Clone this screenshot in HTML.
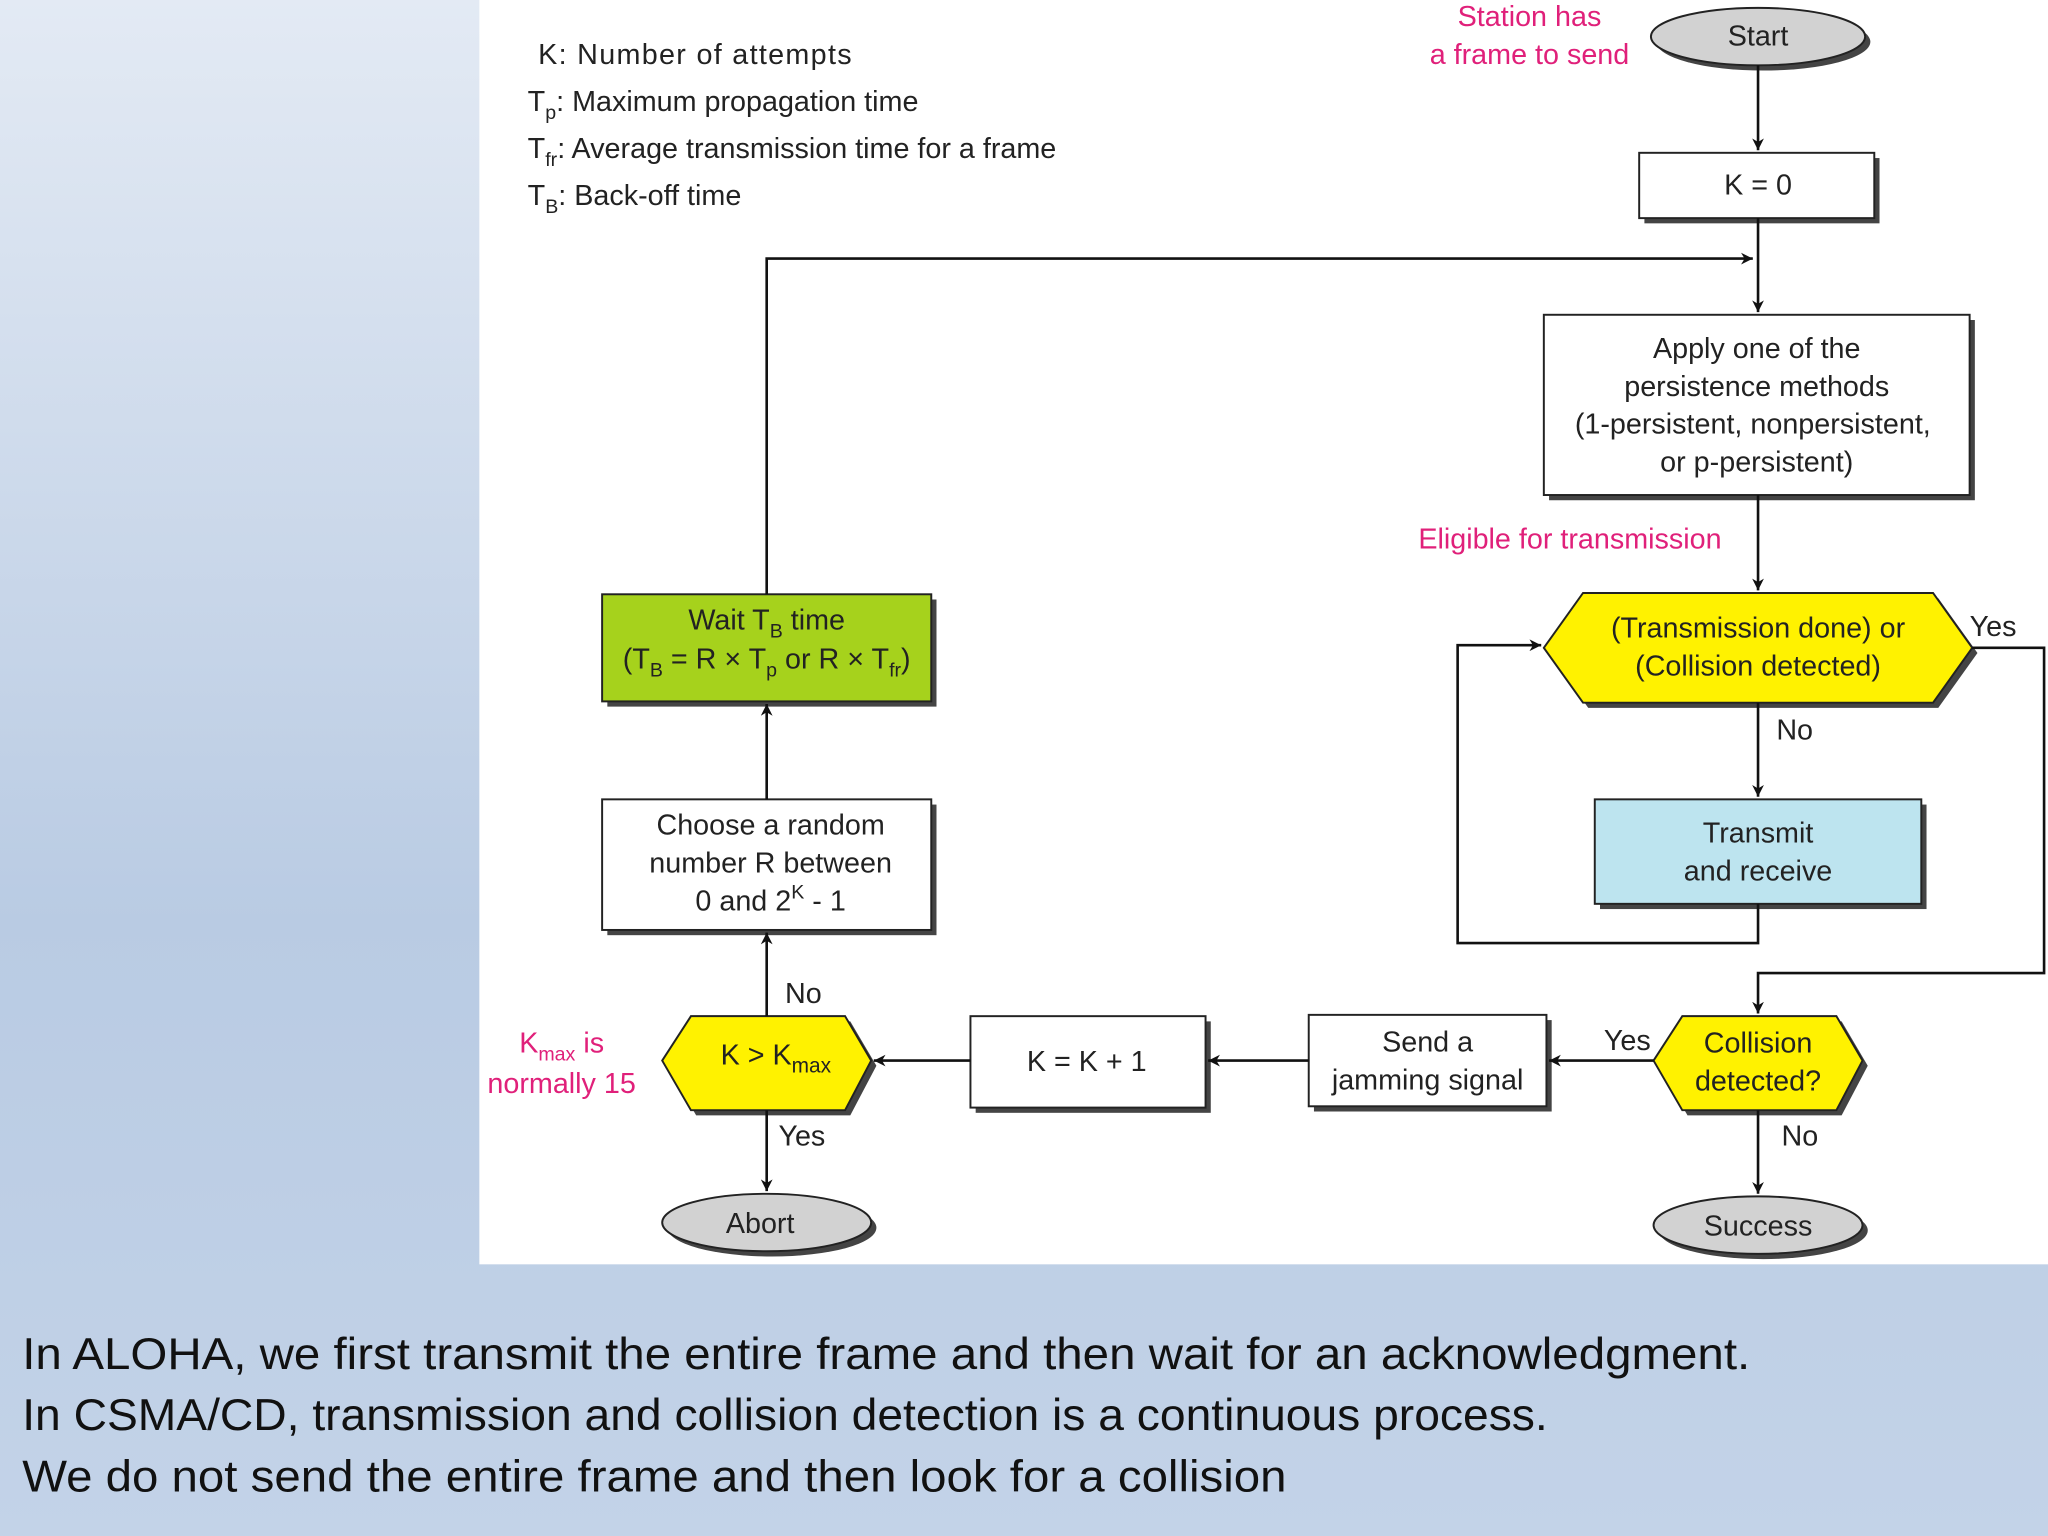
<!DOCTYPE html>
<html><head><meta charset="utf-8"><style>
html,body{margin:0;padding:0;width:2048px;height:1536px;overflow:hidden}
svg{display:block}
</style></head><body>
<svg width="2048" height="1536" viewBox="0 0 1568 1176" preserveAspectRatio="none" xmlns="http://www.w3.org/2000/svg" font-family="Liberation Sans, sans-serif">
<defs>
<linearGradient id="bg" x1="0" y1="0" x2="0" y2="1">
<stop offset="0" stop-color="#e3eaf4"/><stop offset="0.6" stop-color="#b9cbe3"/><stop offset="1" stop-color="#c3d3e8"/>
</linearGradient>
<marker id="a" viewBox="0 0 10 10" refX="10" refY="5" markerWidth="9" markerHeight="9" orient="auto" markerUnits="userSpaceOnUse"><path d="M0,0 L10,5 L0,10 L3,5z" fill="#111"/></marker>
</defs>
<rect width="1568" height="1176" fill="url(#bg)"/>
<rect x="367" y="0" width="1201" height="968" fill="#fff"/>
<g font-size="22" fill="#222">
<text x="412" y="49" textLength="240">K: Number of attempts</text>
<text x="404" y="85">T<tspan font-size="15" dy="6">p</tspan><tspan dy="-6">: Maximum propagation time</tspan></text>
<text x="404" y="121">T<tspan font-size="15" dy="6">fr</tspan><tspan dy="-6">: Average transmission time for a frame</tspan></text>
<text x="404" y="157">T<tspan font-size="15" dy="6">B</tspan><tspan dy="-6">: Back-off time</tspan></text>
</g>
<g font-size="22" fill="#e0207a" text-anchor="middle">
<text x="1171" y="20">Station has</text>
<text x="1171" y="49">a frame to send</text>
<text x="1202" y="420">Eligible for transmission</text>
<text x="430" y="806">K<tspan font-size="15" dy="6">max</tspan><tspan dy="-6"> is</tspan></text>
<text x="430" y="837">normally 15</text>
</g>
<g fill="#444">
<ellipse cx="1350" cy="32" rx="82" ry="22"/>
<rect x="1259" y="121" width="180" height="50"/>
<rect x="1186" y="245" width="326" height="138"/>
<polygon points="1186,500 1216,458 1484,458 1514,500 1484,542 1216,542"/>
<rect x="1225" y="616" width="250" height="80"/>
<polygon points="1270,816 1292,782 1410,782 1430,816 1410,854 1292,854"/>
<ellipse cx="1350" cy="942" rx="80" ry="22"/>
<rect x="1006" y="781" width="182" height="70"/>
<rect x="747" y="782" width="180" height="70"/>
<polygon points="511,816 533,782 651,782 671,816 651,854 533,854"/>
<ellipse cx="591" cy="940" rx="80" ry="22"/>
<rect x="465" y="616" width="252" height="100"/>
<rect x="465" y="459" width="252" height="82"/>
</g>
<g stroke="#222" stroke-width="1.5">
<ellipse cx="1346" cy="28" rx="82" ry="22" fill="#d2d2d2"/>
<rect x="1255" y="117" width="180" height="50" fill="#fff"/>
<rect x="1182" y="241" width="326" height="138" fill="#fff"/>
<polygon points="1182,496 1212,454 1480,454 1510,496 1480,538 1212,538" fill="#fff200"/>
<rect x="1221" y="612" width="250" height="80" fill="#bde4ef"/>
<polygon points="1266,812 1288,778 1406,778 1426,812 1406,850 1288,850" fill="#fff200"/>
<ellipse cx="1346" cy="938" rx="80" ry="22" fill="#d2d2d2"/>
<rect x="1002" y="777" width="182" height="70" fill="#fff"/>
<rect x="743" y="778" width="180" height="70" fill="#fff"/>
<polygon points="507,812 529,778 647,778 667,812 647,850 529,850" fill="#fff200"/>
<ellipse cx="587" cy="936" rx="80" ry="22" fill="#d2d2d2"/>
<rect x="461" y="612" width="252" height="100" fill="#fff"/>
<rect x="461" y="455" width="252" height="82" fill="#a6d21c"/>
</g>
<g stroke="#111" stroke-width="2" fill="none" marker-end="url(#a)">
<path d="M1346,50 V115"/>
<path d="M1346,167 V239"/>
<path d="M587,455 V198 H1342"/>
<path d="M1346,379 V452"/>
<path d="M1346,538 V610"/>
<path d="M1346,692 V722 H1116 V494 H1180"/>
<path d="M1510,496 H1565 V745 H1346 V776"/>
<path d="M1266,812 H1186"/>
<path d="M1002,812 H925"/>
<path d="M743,812 H669"/>
<path d="M587,778 V714"/>
<path d="M587,612 V539"/>
<path d="M587,850 V912"/>
<path d="M1346,850 V914"/>
</g>
<g font-size="22" fill="#222" text-anchor="middle">
<text x="1346" y="35">Start</text>
<text x="1346" y="149">K = 0</text>
<text x="1345" y="274">Apply one of the</text>
<text x="1345" y="303">persistence methods</text>
<text x="1342" y="332">(1-persistent, nonpersistent,</text>
<text x="1345" y="361">or p-persistent)</text>
<text x="1346" y="488">(Transmission done) or</text>
<text x="1346" y="517">(Collision detected)</text>
<text x="1346" y="645">Transmit</text>
<text x="1346" y="674">and receive</text>
<text x="1346" y="806">Collision</text>
<text x="1346" y="835">detected?</text>
<text x="1346" y="946">Success</text>
<text x="1093" y="805">Send a</text>
<text x="1093" y="834">jamming signal</text>
<text x="832" y="820">K = K + 1</text>
<text x="594" y="815">K &gt; K<tspan font-size="16" dy="6">max</tspan></text>
<text x="582" y="944">Abort</text>
<text x="590" y="639">Choose a random</text>
<text x="590" y="668">number R between</text>
<text x="590" y="697">0 and 2<tspan font-size="15" dy="-9">K</tspan><tspan dy="9"> - 1</tspan></text>
<text x="587" y="482">Wait T<tspan font-size="15" dy="6">B</tspan><tspan dy="-6"> time</tspan></text>
<text x="587" y="512">(T<tspan font-size="15" dy="6">B</tspan><tspan dy="-6"> = R × T</tspan><tspan font-size="15" dy="6">p</tspan><tspan dy="-6"> or R × T</tspan><tspan font-size="15" dy="6">fr</tspan><tspan dy="-6">)</tspan></text>
</g>
<g font-size="22" fill="#222">
<text x="1508" y="487">Yes</text>
<text x="1360" y="566">No</text>
<text x="1228" y="804">Yes</text>
<text x="1364" y="877">No</text>
<text x="601" y="768">No</text>
<text x="596" y="877">Yes</text>
</g>
<g font-size="34" fill="#111">
<text x="17" y="1048" textLength="1323" lengthAdjust="spacingAndGlyphs">In ALOHA, we first transmit the entire frame and then wait for an acknowledgment.</text>
<text x="17" y="1095" textLength="1168" lengthAdjust="spacingAndGlyphs">In CSMA/CD, transmission and collision detection is a continuous process.</text>
<text x="17" y="1142" textLength="968" lengthAdjust="spacingAndGlyphs">We do not send the entire frame and then look for a collision</text>
</g>
</svg>
</body></html>
